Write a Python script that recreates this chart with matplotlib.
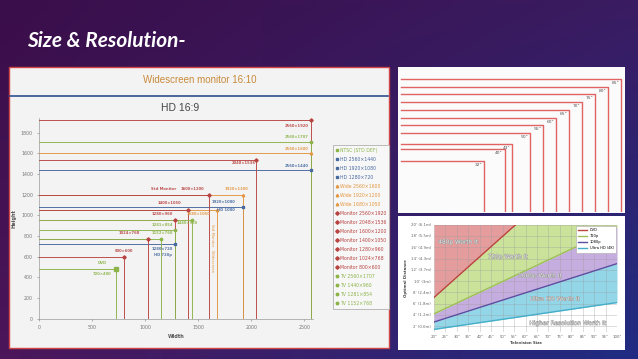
import numpy as np
import matplotlib
matplotlib.use("Agg")
import matplotlib.pyplot as plt
from matplotlib.patches import Rectangle
from matplotlib.lines import Line2D
import matplotlib.patheffects as pe

W, H, DPI = 638, 359, 100

# ---------------- data: left chart (resolutions) ----------------
res_labels = ["NTSC (STD DEF)", "HD 2560×1440", "HD 1920×1080", "HD 1280×720",
              "Wide 2560×1600", "Wide 1920×1200", "Wide 1680×1050",
              "Monitor 2560×1920", "Monitor 2048×1536", "Monitor 1600×1200",
              "Monitor 1400×1050", "Monitor 1280×960", "Monitor 1024×768",
              "Monitor 800×600",
              "TV 2560×1707", "TV 1440×960", "TV 1281×854", "TV 1152×768"]
res_width = [720, 2560, 1920, 1280, 2560, 1920, 1680, 2560, 2048, 1600,
             1400, 1280, 1024, 800, 2560, 1440, 1281, 1152]
res_height = [480, 1440, 1080, 720, 1600, 1200, 1050, 1920, 1536, 1200,
              1050, 960, 768, 600, 1707, 960, 854, 768]
res_group = ["tv", "hd", "hd", "hd", "wide", "wide", "wide",
             "mon", "mon", "mon", "mon", "mon", "mon", "mon",
             "tv", "tv", "tv", "tv"]

ann_text = ["2560×1920", "2560×1707", "2560×1600", "2048×1536", "2560×1440",
            "Std Monitor", "1600×1200", "1920×1200", "1400×1050", "1920×1080",
            "HD 1080", "1280×960", "1680×1050", "1281×854", "1440×960",
            "1152×768", "1024×768", "1280×720", "HD 720p", "800×600",
            "DVD", "720×480"]
ann_x = [2430, 2430, 2430, 1925, 2430, 1178, 1445, 1860, 1229, 1738,
         1762, 1163, 1505, 1163, 1395, 1163, 846, 1163, 1163, 798, 592, 591]
ann_y = [1865, 1756, 1640, 1510, 1481, 1255, 1255, 1255, 1117, 1127,
         1049, 1017, 1017, 907, 923, 827, 827, 672, 614, 655, 536, 430]
ann_group = ["mon", "tv", "wide", "mon", "hd", "mon", "mon", "wide", "mon", "hd",
             "hd", "mon", "wide", "tv", "tv", "tv", "mon", "hd", "hd", "mon",
             "tv", "tv"]
width_ticks = [0, 500, 1000, 1500, 2000, 2500]
height_ticks = [0, 200, 400, 600, 800, 1000, 1200, 1400, 1600, 1800]

# ---------------- data: top-right (screen sizes) ----------------
diagonals = [32, 40, 43, 50, 55, 60, 65, 70, 75, 80, 85]
diag_labels = ['32"', '40"', '43"', '50"', '55"', '60"', '65"', '70"', '75"', '80"', '85"']

# ---------------- data: bottom-right (viewing distance) ----------------
tv_size = [20, 100]
dist_dvd = [7.1, 36.0]
dist_720 = [4.2, 19.5]
dist_1080 = [2.75, 13.1]
dist_uhd = [1.45, 6.2]
size_ticks = [20, 25, 30, 35, 40, 45, 50, 55, 60, 65, 70, 75, 80, 85, 90, 95, 100]
size_labels = [f'{s}"' for s in size_ticks]
dist_ticks = [2, 4, 6, 8, 10, 12, 14, 16, 18, 20]
dist_labels = ["2' (0.6m)", "4' (1.2m)", "6' (1.8m)", "8' (2.4m)", "10' (3m)",
               "12' (3.7m)", "14' (4.3m)", "16' (4.9m)", "18' (5.5m)", "20' (6.1m)"]
zone_labels = ["480p Worth It", "720p Worth It", "1080p Worth It",
               "Ultra HD Worth It", "Higher Resolution Worth It"]
zone_x = [30.6, 52.2, 66.3, 72.8, 78.6]
zone_y = [16.9, 14.3, 10.9, 6.8, 2.5]

# ---------------- styles ----------------
COL = {"mon": "#b84442", "hd": "#46699f", "wide": "#e3963f", "tv": "#8cb44a"}
MARK = {"mon": "D", "hd": "s", "wide": "^", "tv": "o"}


def rect(x0, y0, x1, y1):
    return [x0 / W, 1 - y1 / H, (x1 - x0) / W, (y1 - y0) / H]


fig = plt.figure(figsize=(W / DPI, H / DPI), dpi=DPI)

# background slide
bg = fig.add_axes([0, 0, 1, 1])
bg.set_xlim(0, W)
bg.set_ylim(H, 0)
bg.axis("off")
tl = np.array([0x3a, 0x0e, 0x4a]) / 255
tr = np.array([0x3a, 0x1c, 0x62]) / 255
bl = np.array([0x4c, 0x16, 0x5a]) / 255
br = np.array([0x20, 0x2c, 0x82]) / 255
u = np.linspace(0, 1, 64)[None, :, None]
v = np.linspace(0, 1, 36)[:, None, None]
img = (1 - u) * (1 - v) * tl + u * (1 - v) * tr + (1 - u) * v * bl + u * v * br
bg.imshow(img, extent=[0, W, H, 0], aspect="auto", interpolation="bilinear", zorder=0)

bg.text(27, 41, "Size & Resolution-", color="white", fontsize=15,
        fontweight="bold", fontstyle="italic", family=["Lato", "DejaVu Sans"],
        va="center", ha="left", zorder=2)

# panels
bg.add_patch(Rectangle((9, 67), 380, 281, facecolor="#f3f3f3",
                       edgecolor="#d04545", lw=1.0, zorder=1))
bg.add_patch(Rectangle((398, 67), 227, 146, facecolor="#fbfbfb",
                       edgecolor="none", zorder=1))
bg.add_patch(Rectangle((398, 216), 227, 134, facecolor="white",
                       edgecolor="none", zorder=1))

bg.text(200, 80, "Widescreen monitor 16:10", color="#c98a3a", fontsize=7,
        ha="center", va="center", family=["Liberation Sans", "DejaVu Sans"], zorder=2)
bg.plot([10, 388], [95.7, 95.7], color="#2e4f8e", lw=1.2, zorder=2)
bg.text(180, 108, "HD 16:9", color="#454545", fontsize=7.5,
        ha="center", va="center", family=["Liberation Sans", "DejaVu Sans"], zorder=2)

# ---------------- left chart ----------------
ax = fig.add_axes(rect(39.3, 118.3, 39.3 + 2580 * 0.106, 318.7))
ax.set_facecolor("none")
ax.set_xlim(0, 2580)
ax.set_ylim(0, 1940)
handles = []
for lab, w, h, g in zip(res_labels, res_width, res_height, res_group):
    c = COL[g]
    ax.plot([0, w, w], [h, h, 0], color=c, lw=0.65, zorder=3)
    ms = 3.0 if lab.startswith("NTSC") else 1.7
    mk = "s" if lab.startswith("NTSC") else MARK[g]
    ax.plot([w], [h], marker=mk, color=c, ms=ms, ls="none", zorder=4, clip_on=False)
    handles.append(Line2D([], [], marker=mk, color=c, ms=1.8, ls="none", label=lab))
for t, x, y, g in zip(ann_text, ann_x, ann_y, ann_group):
    ax.text(x, y, t, color=COL[g], fontsize=2.7, fontweight="bold",
            ha="center", va="center", zorder=5, alpha=0.9)
ax.text(1626, 680, "Std Monitor   Widescreen", color=COL["wide"], fontsize=2.7,
        rotation=270, ha="center", va="center", zorder=5)
for s in ["top", "right"]:
    ax.spines[s].set_visible(False)
for s in ["left", "bottom"]:
    ax.spines[s].set_color("#9a9a9a")
    ax.spines[s].set_linewidth(0.5)
ax.set_xticks(width_ticks)
ax.set_yticks(height_ticks)
ax.tick_params(labelsize=3.4, colors="#777777", length=1.5, width=0.4, pad=3)
ax.set_xlabel("Width", fontsize=3.6, fontweight="bold", color="#555555", labelpad=3)
ax.set_ylabel("Height", fontsize=3.6, fontweight="bold", color="#555555", labelpad=3)

leg = ax.legend(handles=handles, loc="upper left",
                bbox_to_anchor=(333 / W, 1 - 145 / H), bbox_transform=fig.transFigure,
                fontsize=3.35, labelcolor="linecolor", frameon=True, fancybox=False,
                edgecolor="#b0b0b0", facecolor="#f7f7f7", framealpha=1,
                labelspacing=0.86, handlelength=0.5, handletextpad=0.35,
                borderpad=0.6, borderaxespad=0)
leg.get_frame().set_linewidth(0.6)

# ---------------- top-right chart ----------------
ax2 = fig.add_axes(rect(398, 67.7, 625, 212))
ax2.set_xlim(-(401 - 398) / 2.97, (625 - 401) / 2.97)
ax2.set_ylim(-(212 - 210.5) / 3.155, (210.5 - 67.7) / 3.155)
ax2.axis("off")
k = np.sqrt(16 ** 2 + 9 ** 2)
for d, lab in zip(diagonals, diag_labels):
    w, h = d * 16 / k, d * 9 / k
    ax2.plot([0, w, w], [h, h, 0], color="#e06464", lw=1.0)
    ax2.text(w - 0.6, h - 0.6, lab, fontsize=3.2, color="#555555",
             ha="right", va="top")

# ---------------- bottom-right chart ----------------
ax3 = fig.add_axes(rect(434, 224.7, 617, 331.9))
ax3.set_xlim(20, 100)
ax3.set_ylim(1, 20)
ax3.fill_between(tv_size, dist_dvd, 40, color="#e59c9c", lw=0, zorder=1)
ax3.fill_between(tv_size, dist_720, dist_dvd, color="#cbe29a", lw=0, zorder=1)
ax3.fill_between(tv_size, dist_1080, dist_720, color="#c6addf", lw=0, zorder=1)
ax3.fill_between(tv_size, dist_uhd, dist_1080, color="#92d6e8", lw=0, zorder=1)
l1, = ax3.plot(tv_size, dist_dvd, color="#b8473a", lw=1.0, zorder=3, label="DVD")
l2, = ax3.plot(tv_size, dist_720, color="#9bbf55", lw=1.0, zorder=3, label="720p")
l3, = ax3.plot(tv_size, dist_1080, color="#5a4ea0", lw=1.0, zorder=3, label="1080p")
l4, = ax3.plot(tv_size, dist_uhd, color="#45aec9", lw=1.0, zorder=3, label="Ultra HD (4K)")
ax3.set_xticks(size_ticks)
ax3.set_xticklabels(size_labels)
ax3.set_yticks(dist_ticks)
ax3.set_yticklabels(dist_labels)
ax3.grid(True, color="#9a9a9a", lw=0.4, alpha=0.6, zorder=2)
ax3.set_axisbelow(False)
for s in ax3.spines.values():
    s.set_visible(False)
ax3.tick_params(labelsize=2.8, colors="#666666", length=0, pad=2)
ax3.set_xlabel("Television Size", fontsize=2.8, fontweight="bold", color="#444444", labelpad=2)
ax3.set_ylabel("Optimal Distance", fontsize=2.8, fontweight="bold", color="#444444", labelpad=2)
for t, x, y in zip(zone_labels, zone_x, zone_y):
    ax3.text(x, y, t, fontsize=4.2, color="#f4f4f4", ha="center", va="center", zorder=5,
             path_effects=[pe.withStroke(linewidth=0.5, foreground="#8a8a8a")])
leg3 = ax3.legend(handles=[l1, l2, l3, l4], loc="upper right", fontsize=2.6,
                  frameon=True, fancybox=False, edgecolor="#aaaaaa", facecolor="white",
                  framealpha=1, labelspacing=0.6, handlelength=2.5,
                  borderpad=0.6, borderaxespad=0.3)
leg3.get_frame().set_linewidth(0.4)
leg3.set_zorder(6)

fig.savefig("out.png", dpi=DPI)
